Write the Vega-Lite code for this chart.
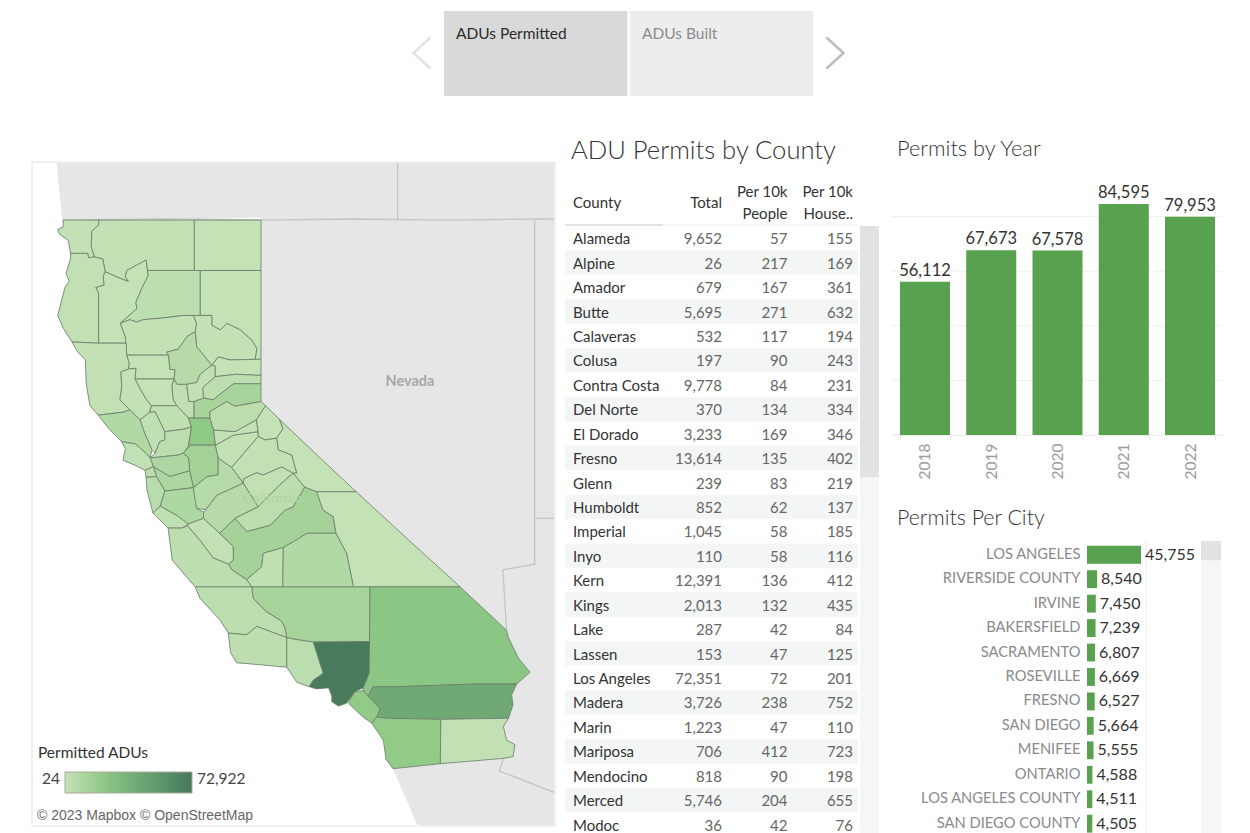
{
"$schema":"https://vega.github.io/schema/vega-lite/v6.json",
"width":1250,"height":833,"padding":0,"autosize":{"type":"none"},"background":"white",
"config":{"font":"Lato","view":{"stroke":null},"axis":{"grid":false}},
"datasets":{
"table":[
{"County":"Alameda","Total":9652,"People":57,"House":155},{"County":"Alpine","Total":26,"People":217,"House":169},{"County":"Amador","Total":679,"People":167,"House":361},{"County":"Butte","Total":5695,"People":271,"House":632},{"County":"Calaveras","Total":532,"People":117,"House":194},{"County":"Colusa","Total":197,"People":90,"House":243},{"County":"Contra Costa","Total":9778,"People":84,"House":231},{"County":"Del Norte","Total":370,"People":134,"House":334},{"County":"El Dorado","Total":3233,"People":169,"House":346},{"County":"Fresno","Total":13614,"People":135,"House":402},{"County":"Glenn","Total":239,"People":83,"House":219},{"County":"Humboldt","Total":852,"People":62,"House":137},{"County":"Imperial","Total":1045,"People":58,"House":185},{"County":"Inyo","Total":110,"People":58,"House":116},{"County":"Kern","Total":12391,"People":136,"House":412},{"County":"Kings","Total":2013,"People":132,"House":435},{"County":"Lake","Total":287,"People":42,"House":84},{"County":"Lassen","Total":153,"People":47,"House":125},{"County":"Los Angeles","Total":72351,"People":72,"House":201},{"County":"Madera","Total":3726,"People":238,"House":752},{"County":"Marin","Total":1223,"People":47,"House":110},{"County":"Mariposa","Total":706,"People":412,"House":723},{"County":"Mendocino","Total":818,"People":90,"House":198},{"County":"Merced","Total":5746,"People":204,"House":655},{"County":"Modoc","Total":36,"People":42,"House":76}],
"years":[{"Year":"2018","Permits":56112},{"Year":"2019","Permits":67673},{"Year":"2020","Permits":67578},{"Year":"2021","Permits":84595},{"Year":"2022","Permits":79953}],
"cities":[{"City":"LOS ANGELES","Permits":45755},{"City":"RIVERSIDE COUNTY","Permits":8540},{"City":"IRVINE","Permits":7450},{"City":"BAKERSFIELD","Permits":7239},{"City":"SACRAMENTO","Permits":6807},{"City":"ROSEVILLE","Permits":6669},{"City":"FRESNO","Permits":6527},{"City":"SAN DIEGO","Permits":5664},{"City":"MENIFEE","Permits":5555},{"City":"ONTARIO","Permits":4588},{"City":"LOS ANGELES COUNTY","Permits":4511},{"City":"SAN DIEGO COUNTY","Permits":4505}]
},
"resolve":{"scale":{"x":"independent","y":"independent","color":"independent","shape":"independent","stroke":"independent"},"axis":{"x":"independent","y":"independent"}},
"layer":[
{"data":{"values":[{"Tab":"ADUs Permitted"},{"Tab":"ADUs Built"}]},"mark":{"type":"rect"},"encoding":{
"x":{"field":"Tab","type":"nominal","sort":null,"axis":null,"scale":{"type":"band","range":[444,813],"paddingInner":0.012,"paddingOuter":0}},
"y":{"datum":"tab","type":"nominal","axis":null,"scale":{"type":"band","range":[11,96],"paddingInner":0,"paddingOuter":0}},
"color":{"field":"Tab","type":"nominal","legend":null,"scale":{"domain":["ADUs Permitted","ADUs Built"],"range":["#d9d9d9","#ededed"]}}}},
{"data":{"values":[{"Tab":"ADUs Permitted"},{"Tab":"ADUs Built"}]},"mark":{"type":"text","align":"left","baseline":"middle","fontSize":15.5},"encoding":{
"text":{"field":"Tab"},
"x":{"field":"Tab","type":"nominal","sort":null,"axis":null,"scale":{"type":"point","range":[456,642],"padding":0}},
"y":{"datum":"tab","type":"nominal","axis":null,"scale":{"type":"point","range":[33.5,33.5],"padding":0}},
"color":{"field":"Tab","type":"nominal","legend":null,"scale":{"domain":["ADUs Permitted","ADUs Built"],"range":["#2b2b2b","#8c8c8c"]}}}},
{"data":{"values":[{"Arrow":"previous"},{"Arrow":"next"}]},"mark":{"type":"point","filled":false,"size":961,"strokeWidth":2.5,"opacity":1},"encoding":{
"x":{"field":"Arrow","type":"nominal","sort":null,"axis":null,"scale":{"type":"point","range":[422,835],"padding":0}},
"y":{"datum":"arrow","type":"nominal","axis":null,"scale":{"type":"point","range":[53,53],"padding":0}},
"shape":{"field":"Arrow","type":"nominal","legend":null,"scale":{"domain":["previous","next"],"range":["M0.55,-1L-0.55,0L0.55,1","M-0.55,-1L0.55,0L-0.55,1"]}},
"stroke":{"field":"Arrow","type":"nominal","legend":null,"scale":{"domain":["previous","next"],"range":["#e2e2e2","#bdbdbd"]}}}},
{"data":{"values":[{"Panel":"map"}]},"mark":{"type":"rect","fill":"white","stroke":"#e2e2e2","strokeWidth":1},"encoding":{
"x":{"field":"Panel","type":"nominal","axis":null,"scale":{"type":"band","range":[32,555],"paddingInner":0,"paddingOuter":0}},
"y":{"field":"Panel","type":"nominal","axis":null,"scale":{"type":"band","range":[162,826],"paddingInner":0,"paddingOuter":0}}}},
{"projection":{"type":"mercator","scale":2635,"center":[-120,37],"translate":[261,518.3],"clipExtent":[[33,163],[554,825]]},
"layer":[
{"data":{"values":[
{"type":"Feature","properties":{"Name":"Oregon"},"geometry":{"type":"Polygon","coordinates":[[[-124.51,43.4],[-112,43.4],[-112,41.9],[-124.3,41.9],[-124.33,42.05],[-124.41,42.65],[-124.51,43.4]]]}},
{"type":"Feature","properties":{"Name":"Nevada and Arizona"},"geometry":{"type":"Polygon","coordinates":[[[-120,42.5],[-112,42.5],[-112,31.3],[-114.72,32.72],[-114.52,32.75],[-114.48,32.97],[-114.66,33.05],[-114.73,33.3],[-114.62,33.45],[-114.52,33.69],[-114.55,33.87],[-114.44,34.07],[-114.15,34.28],[-114.4,34.53],[-114.62,34.9],[-114.66,35.03],[-115.67,35.8],[-117.93,37.46],[-119.6,38.7],[-119.9,38.93],[-120,39],[-120,42.5]]]}},
{"type":"Feature","properties":{"Name":"Mexico"},"geometry":{"type":"Polygon","coordinates":[[[-117.13,32.53],[-114.72,32.72],[-112,31.3],[-112,29],[-115.5,29.5],[-116.2,31],[-116.62,31.53],[-117.13,32.53]]]}}
]},"mark":{"type":"geoshape","fill":"#e6e6e6","stroke":null}},
{"data":{"values":[
{"type":"Feature","properties":{"Name":"Oregon Idaho"},"geometry":{"type":"LineString","coordinates":[[-117.03,43.4],[-117.03,42]]}},
{"type":"Feature","properties":{"Name":"42nd parallel"},"geometry":{"type":"LineString","coordinates":[[-124.3,42],[-120,42],[-116,42],[-112,42]]}},
{"type":"Feature","properties":{"Name":"Nevada Utah"},"geometry":{"type":"LineString","coordinates":[[-114.05,42],[-114.05,36.2],[-114.74,36.1],[-114.66,35.03]]}},
{"type":"Feature","properties":{"Name":"Utah Arizona"},"geometry":{"type":"LineString","coordinates":[[-114.05,37],[-112,37]]}},
{"type":"Feature","properties":{"Name":"Arizona Mexico"},"geometry":{"type":"LineString","coordinates":[[-114.72,32.72],[-114.82,32.49],[-113.5,32.05],[-112,31.5]]}}
]},"mark":{"type":"geoshape","filled":false,"stroke":"#c4c4c4","strokeWidth":1.3}},
{"data":{"values":[
{"type":"Feature","properties":{"County":"Del Norte","Total":370},"geometry":{"type":"Polygon","coordinates":[[[-124.3,42],[-123.52,42],[-123.53,41.92],[-123.68,41.82],[-123.69,41.57],[-123.62,41.4],[-123.75,41.39],[-123.77,41.46],[-124.14,41.46],[-124.19,41.67],[-124.38,41.77],[-124.42,41.85],[-124.3,41.89],[-124.3,42]]]}},
{"type":"Feature","properties":{"County":"Siskiyou","Total":300},"geometry":{"type":"Polygon","coordinates":[[[-123.52,42],[-122.5,42],[-121.45,42],[-121.45,41.18],[-122.47,41.18],[-122.5,41.35],[-122.92,41.18],[-122.95,41.08],[-122.88,41],[-123.06,41.05],[-123.39,41.16],[-123.44,41.37],[-123.62,41.4],[-123.69,41.57],[-123.68,41.82],[-123.53,41.92],[-123.52,42]]]}},
{"type":"Feature","properties":{"County":"Modoc","Total":36},"geometry":{"type":"Polygon","coordinates":[[[-121.45,42],[-120,42],[-120,41.18],[-121.45,41.18],[-121.45,42]]]}},
{"type":"Feature","properties":{"County":"Humboldt","Total":852},"geometry":{"type":"Polygon","coordinates":[[[-124.14,41.46],[-123.77,41.46],[-123.75,41.39],[-123.62,41.4],[-123.44,41.37],[-123.39,41.16],[-123.43,41.08],[-123.41,40.94],[-123.59,40.9],[-123.53,40.81],[-123.53,39.98],[-124.11,40],[-124.3,40.23],[-124.42,40.44],[-124.26,40.91],[-124.17,41],[-124.24,41.13],[-124.14,41.38],[-124.14,41.46]]]}},
{"type":"Feature","properties":{"County":"Trinity","Total":200},"geometry":{"type":"Polygon","coordinates":[[[-123.39,41.16],[-123.06,41.05],[-122.88,41],[-122.95,41.08],[-122.92,41.18],[-122.5,41.35],[-122.47,41.18],[-122.45,41.1],[-122.59,40.89],[-122.72,40.66],[-122.7,40.55],[-123.06,40.31],[-122.95,40.09],[-122.93,39.98],[-123.53,39.98],[-123.53,40.81],[-123.59,40.9],[-123.41,40.94],[-123.43,41.08],[-123.39,41.16]]]}},
{"type":"Feature","properties":{"County":"Shasta","Total":3000},"geometry":{"type":"Polygon","coordinates":[[[-122.47,41.18],[-121.32,41.18],[-121.32,40.44],[-121.47,40.44],[-121.69,40.44],[-122.12,40.4],[-122.56,40.37],[-122.7,40.33],[-122.85,40.37],[-123.06,40.31],[-122.7,40.55],[-122.72,40.66],[-122.59,40.89],[-122.45,41.1],[-122.47,41.18]]]}},
{"type":"Feature","properties":{"County":"Lassen","Total":153},"geometry":{"type":"Polygon","coordinates":[[[-121.32,41.18],[-120,41.18],[-120,39.71],[-120.13,39.71],[-120.09,39.89],[-120.2,40.03],[-120.45,40.2],[-120.74,40.31],[-120.89,40.2],[-121.07,40.28],[-121.07,40.44],[-121.32,40.44],[-121.32,41.18]]]}},
{"type":"Feature","properties":{"County":"Tehama","Total":600},"geometry":{"type":"Polygon","coordinates":[[[-123.06,40.31],[-122.85,40.37],[-122.7,40.33],[-122.56,40.37],[-122.12,40.4],[-121.69,40.44],[-121.47,40.44],[-121.4,40.31],[-121.43,40.17],[-121.61,40.09],[-121.8,39.88],[-122.05,39.83],[-122.01,39.78],[-122.92,39.78],[-122.95,40.09],[-123.06,40.31]]]}},
{"type":"Feature","properties":{"County":"Plumas","Total":400},"geometry":{"type":"Polygon","coordinates":[[[-121.47,40.44],[-121.32,40.44],[-121.07,40.44],[-121.07,40.28],[-120.89,40.2],[-120.74,40.31],[-120.45,40.2],[-120.2,40.03],[-120.09,39.89],[-120.13,39.71],[-120.67,39.7],[-120.93,39.75],[-121.07,39.61],[-121.4,39.92],[-121.43,40.17],[-121.4,40.31],[-121.47,40.44]]]}},
{"type":"Feature","properties":{"County":"Glenn","Total":239},"geometry":{"type":"Polygon","coordinates":[[[-122.92,39.78],[-122.01,39.78],[-121.98,39.54],[-121.87,39.54],[-121.89,39.38],[-122.74,39.38],[-122.72,39.56],[-122.88,39.55],[-122.87,39.65],[-122.92,39.78]]]}},
{"type":"Feature","properties":{"County":"Butte","Total":5695},"geometry":{"type":"Polygon","coordinates":[[[-121.61,40.09],[-121.43,40.17],[-121.4,39.92],[-121.07,39.61],[-121.32,39.46],[-121.4,39.32],[-121.62,39.29],[-121.83,39.29],[-121.89,39.38],[-121.87,39.54],[-121.98,39.54],[-122.01,39.78],[-122.05,39.83],[-121.8,39.88],[-121.61,40.09]]]}},
{"type":"Feature","properties":{"County":"Sierra","Total":30},"geometry":{"type":"Polygon","coordinates":[[[-120.93,39.75],[-120.67,39.7],[-120.13,39.71],[-120,39.71],[-120,39.44],[-120.55,39.46],[-120.75,39.44],[-121,39.42],[-121,39.6],[-121.07,39.61],[-120.93,39.75]]]}},
{"type":"Feature","properties":{"County":"Nevada","Total":2500},"geometry":{"type":"Polygon","coordinates":[[[-121.27,39.23],[-121,39.42],[-120.75,39.44],[-120.55,39.46],[-120,39.44],[-120,39.3],[-120.6,39.3],[-121.04,39.03],[-121.25,39.06],[-121.27,39.23]]]}},
{"type":"Feature","properties":{"County":"Placer","Total":12000},"geometry":{"type":"Polygon","coordinates":[[[-121.46,39],[-121.25,39.06],[-121.04,39.03],[-120.6,39.3],[-120,39.3],[-120,39],[-120.565,38.92],[-120.75,39],[-121.11,38.83],[-121.11,38.72],[-121.46,38.72],[-121.46,39]]]}},
{"type":"Feature","properties":{"County":"Yuba","Total":1000},"geometry":{"type":"Polygon","coordinates":[[[-121.62,39.29],[-121.4,39.32],[-121.32,39.46],[-121.07,39.61],[-121,39.6],[-121,39.42],[-121.27,39.23],[-121.25,39.06],[-121.46,39],[-121.57,39],[-121.62,39.29]]]}},
{"type":"Feature","properties":{"County":"Sutter","Total":1500},"geometry":{"type":"Polygon","coordinates":[[[-121.89,39.38],[-121.83,39.29],[-121.62,39.29],[-121.57,39],[-121.46,39],[-121.46,38.72],[-121.58,38.72],[-121.65,38.78],[-121.83,38.93],[-121.91,39.03],[-121.94,39.27],[-121.89,39.38]]]}},
{"type":"Feature","properties":{"County":"Colusa","Total":197},"geometry":{"type":"Polygon","coordinates":[[[-122.74,39.38],[-121.89,39.38],[-121.94,39.27],[-121.91,39.03],[-121.83,38.93],[-122.38,38.93],[-122.49,39.03],[-122.62,39.2],[-122.74,39.38]]]}},
{"type":"Feature","properties":{"County":"Lake","Total":287},"geometry":{"type":"Polygon","coordinates":[[[-122.88,39.55],[-122.72,39.56],[-122.74,39.38],[-122.62,39.2],[-122.49,39.03],[-122.38,38.93],[-122.42,38.82],[-122.63,38.69],[-122.85,38.86],[-123.07,39.03],[-123.03,39.25],[-123.05,39.5],[-122.88,39.55]]]}},
{"type":"Feature","properties":{"County":"Mendocino","Total":818},"geometry":{"type":"Polygon","coordinates":[[[-124.11,40],[-123.53,39.98],[-122.93,39.98],[-122.92,39.78],[-122.87,39.65],[-122.88,39.55],[-123.05,39.5],[-123.03,39.25],[-123.07,39.03],[-122.85,38.86],[-123,38.82],[-123.54,38.77],[-123.72,38.93],[-123.8,39.3],[-123.82,39.7],[-124,39.85],[-124.11,40]]]}},
{"type":"Feature","properties":{"County":"Sonoma","Total":8000},"geometry":{"type":"Polygon","coordinates":[[[-123.54,38.77],[-123,38.82],[-122.85,38.86],[-122.63,38.69],[-122.52,38.45],[-122.37,38.18],[-122.41,38.04],[-122.5,38.12],[-122.73,38.28],[-123.03,38.32],[-123.32,38.55],[-123.54,38.77]]]}},
{"type":"Feature","properties":{"County":"Napa","Total":1800},"geometry":{"type":"Polygon","coordinates":[[[-122.63,38.69],[-122.42,38.82],[-122.3,38.83],[-122.09,38.49],[-122.09,38.35],[-122.2,38.32],[-122.3,38.12],[-122.37,38.18],[-122.52,38.45],[-122.63,38.69]]]}},
{"type":"Feature","properties":{"County":"Yolo","Total":2000},"geometry":{"type":"Polygon","coordinates":[[[-122.38,38.93],[-121.83,38.93],[-121.65,38.78],[-121.58,38.72],[-121.51,38.57],[-121.69,38.53],[-122.09,38.49],[-122.3,38.83],[-122.42,38.82],[-122.38,38.93]]]}},
{"type":"Feature","properties":{"County":"Solano","Total":3500},"geometry":{"type":"Polygon","coordinates":[[[-122.09,38.49],[-121.69,38.53],[-121.51,38.57],[-121.58,38.23],[-121.69,38.12],[-121.8,38.09],[-122.41,38.04],[-122.3,38.12],[-122.2,38.32],[-122.09,38.35],[-122.09,38.49]]]}},
{"type":"Feature","properties":{"County":"Sacramento","Total":22000},"geometry":{"type":"Polygon","coordinates":[[[-121.58,38.72],[-121.46,38.72],[-121.11,38.72],[-121.03,38.52],[-120.99,38.26],[-121.54,38.26],[-121.69,38.12],[-121.58,38.23],[-121.51,38.57],[-121.58,38.72]]]}},
{"type":"Feature","properties":{"County":"San Joaquin","Total":14000},"geometry":{"type":"Polygon","coordinates":[[[-121.54,38.26],[-120.99,38.26],[-120.93,38.04],[-120.93,37.75],[-121.17,37.72],[-121.47,37.53],[-121.55,37.82],[-121.58,38.05],[-121.69,38.12],[-121.54,38.26]]]}},
{"type":"Feature","properties":{"County":"Contra Costa","Total":9778},"geometry":{"type":"Polygon","coordinates":[[[-122.41,38.04],[-121.8,38.09],[-121.69,38.12],[-121.58,38.05],[-121.55,37.82],[-121.98,37.72],[-122.34,37.89],[-122.41,38.04]]]}},
{"type":"Feature","properties":{"County":"Alameda","Total":9652},"geometry":{"type":"Polygon","coordinates":[[[-122.34,37.89],[-121.98,37.72],[-121.55,37.82],[-121.47,37.53],[-122.09,37.47],[-122.27,37.72],[-122.34,37.89]]]}},
{"type":"Feature","properties":{"County":"Marin","Total":1223},"geometry":{"type":"Polygon","coordinates":[[[-123.03,38.32],[-122.73,38.28],[-122.5,38.12],[-122.41,38.04],[-122.34,37.89],[-122.52,37.83],[-122.75,37.92],[-123,38],[-122.95,38.2],[-123.03,38.32]]]}},
{"type":"Feature","properties":{"County":"San Francisco","Total":2500},"geometry":{"type":"Polygon","coordinates":[[[-122.52,37.83],[-122.34,37.89],[-122.27,37.72],[-122.5,37.71],[-122.52,37.83]]]}},
{"type":"Feature","properties":{"County":"San Mateo","Total":5000},"geometry":{"type":"Polygon","coordinates":[[[-122.5,37.71],[-122.27,37.72],[-122.09,37.47],[-122.12,37.4],[-122.19,37.21],[-122.35,37.09],[-122.48,37.49],[-122.5,37.71]]]}},
{"type":"Feature","properties":{"County":"Santa Clara","Total":9000},"geometry":{"type":"Polygon","coordinates":[[[-122.09,37.47],[-121.47,37.53],[-121.42,37.3],[-121.4,37.17],[-121.25,37.11],[-121.25,37],[-121.58,36.9],[-121.83,37.05],[-122.19,37.21],[-122.12,37.4],[-122.09,37.47]]]}},
{"type":"Feature","properties":{"County":"Santa Cruz","Total":2000},"geometry":{"type":"Polygon","coordinates":[[[-122.35,37.09],[-122.19,37.21],[-121.83,37.05],[-121.58,36.9],[-121.72,36.83],[-122.02,36.83],[-122.35,37.09]]]}},
{"type":"Feature","properties":{"County":"San Benito","Total":500},"geometry":{"type":"Polygon","coordinates":[[[-121.58,36.9],[-121.25,37],[-120.9,36.74],[-120.6,36.51],[-120.6,36.27],[-120.71,36.2],[-121.04,36.31],[-121.33,36.62],[-121.6,36.87],[-121.58,36.9]]]}},
{"type":"Feature","properties":{"County":"Monterey","Total":2500},"geometry":{"type":"Polygon","coordinates":[[[-121.72,36.83],[-121.6,36.87],[-121.33,36.62],[-121.04,36.31],[-120.71,36.2],[-120.63,36.1],[-120.31,35.93],[-120.2,35.8],[-121.43,35.8],[-121.93,36.27],[-122.02,36.83],[-121.72,36.83]]]}},
{"type":"Feature","properties":{"County":"Fresno","Total":13614},"geometry":{"type":"Polygon","coordinates":[[[-120.9,36.74],[-120.565,37],[-120.31,36.77],[-119.8,36.88],[-119.48,37.14],[-119.3,37.2],[-119.05,37.54],[-118.79,37.46],[-118.65,37.14],[-118.43,37.03],[-118.37,36.74],[-119,36.74],[-119.3,36.59],[-119.52,36.49],[-119.95,36.39],[-119.99,36.15],[-120.31,35.93],[-120.63,36.1],[-120.71,36.2],[-120.6,36.27],[-120.6,36.51],[-120.9,36.74]]]}},
{"type":"Feature","properties":{"County":"Merced","Total":5746},"geometry":{"type":"Polygon","coordinates":[[[-120.96,37.4],[-120.385,37.61],[-120.06,37.2],[-120.565,37],[-120.9,36.74],[-121.25,37],[-121.25,37.11],[-121.2,37.15],[-120.96,37.4]]]}},
{"type":"Feature","properties":{"County":"Stanislaus","Total":6000},"geometry":{"type":"Polygon","coordinates":[[[-120.93,38.04],[-120.64,37.88],[-120.385,37.61],[-120.96,37.4],[-121.2,37.15],[-121.4,37.17],[-121.45,37.4],[-121.47,37.53],[-121.17,37.72],[-120.93,37.75],[-120.93,38.04]]]}},
{"type":"Feature","properties":{"County":"Mariposa","Total":706},"geometry":{"type":"Polygon","coordinates":[[[-120.385,37.68],[-120.1,37.79],[-119.95,37.75],[-119.55,37.89],[-119.3,37.78],[-119.59,37.58],[-120.06,37.2],[-120.385,37.61],[-120.385,37.68]]]}},
{"type":"Feature","properties":{"County":"Madera","Total":3726},"geometry":{"type":"Polygon","coordinates":[[[-120.06,37.2],[-119.59,37.58],[-119.3,37.78],[-119.05,37.54],[-119.3,37.2],[-119.48,37.14],[-119.8,36.88],[-120.31,36.77],[-120.565,37],[-120.06,37.2]]]}},
{"type":"Feature","properties":{"County":"Tuolumne","Total":700},"geometry":{"type":"Polygon","coordinates":[[[-120.64,37.88],[-120.06,38.41],[-119.91,38.35],[-119.66,38.38],[-119.62,38.18],[-119.33,38.09],[-119.22,37.78],[-119.3,37.78],[-119.55,37.89],[-119.95,37.75],[-120.1,37.79],[-120.385,37.68],[-120.385,37.61],[-120.64,37.88]]]}},
{"type":"Feature","properties":{"County":"Calaveras","Total":532},"geometry":{"type":"Polygon","coordinates":[[[-120.99,38.26],[-120.6,38.43],[-120.06,38.49],[-120.06,38.41],[-120.64,37.88],[-120.93,38.04],[-120.99,38.26]]]}},
{"type":"Feature","properties":{"County":"Amador","Total":679},"geometry":{"type":"Polygon","coordinates":[[[-121.03,38.52],[-120.565,38.49],[-120.1,38.69],[-120.06,38.49],[-120.6,38.43],[-120.99,38.26],[-121.03,38.52]]]}},
{"type":"Feature","properties":{"County":"El Dorado","Total":3233},"geometry":{"type":"Polygon","coordinates":[[[-121.11,38.83],[-120.75,39],[-120.565,38.92],[-120,39],[-119.9,38.93],[-120.1,38.69],[-120.565,38.49],[-121.03,38.52],[-121.11,38.72],[-121.11,38.83]]]}},
{"type":"Feature","properties":{"County":"Alpine","Total":26},"geometry":{"type":"Polygon","coordinates":[[[-120.1,38.69],[-119.9,38.93],[-119.6,38.7],[-119.52,38.54],[-119.66,38.38],[-119.91,38.35],[-120.06,38.41],[-120.06,38.49],[-120.1,38.69]]]}},
{"type":"Feature","properties":{"County":"Mono","Total":150},"geometry":{"type":"Polygon","coordinates":[[[-119.6,38.7],[-118.7,38.03],[-117.93,37.46],[-118.79,37.46],[-119.05,37.54],[-119.3,37.78],[-119.22,37.78],[-119.33,38.09],[-119.62,38.18],[-119.66,38.38],[-119.52,38.54],[-119.6,38.7]]]}},
{"type":"Feature","properties":{"County":"Inyo","Total":110},"geometry":{"type":"Polygon","coordinates":[[[-118.79,37.46],[-117.93,37.46],[-116.8,36.63],[-115.67,35.8],[-117.63,35.8],[-117.99,35.8],[-118.14,36.39],[-118.37,36.74],[-118.43,37.03],[-118.65,37.14],[-118.79,37.46]]]}},
{"type":"Feature","properties":{"County":"Tulare","Total":8000},"geometry":{"type":"Polygon","coordinates":[[[-119.52,36.49],[-119.3,36.59],[-119,36.74],[-118.37,36.74],[-118.14,36.39],[-117.99,35.8],[-119.53,35.8],[-119.52,36.49]]]}},
{"type":"Feature","properties":{"County":"Kings","Total":2013},"geometry":{"type":"Polygon","coordinates":[[[-119.95,36.39],[-119.52,36.49],[-119.53,35.8],[-120.2,35.8],[-120.31,35.93],[-119.99,36.15],[-119.95,36.39]]]}},
{"type":"Feature","properties":{"County":"Kern","Total":12391},"geometry":{"type":"Polygon","coordinates":[[[-120.2,35.8],[-119.53,35.8],[-117.99,35.8],[-117.63,35.8],[-117.64,34.83],[-118.86,34.82],[-119.26,34.87],[-119.44,34.9],[-119.48,35.07],[-119.55,35.19],[-119.88,35.36],[-120.06,35.5],[-120.17,35.6],[-120.2,35.8]]]}},
{"type":"Feature","properties":{"County":"San Luis Obispo","Total":3500},"geometry":{"type":"Polygon","coordinates":[[[-121.43,35.8],[-120.2,35.8],[-120.17,35.6],[-120.06,35.5],[-119.88,35.36],[-119.55,35.19],[-119.48,35.07],[-119.44,34.9],[-119.77,35],[-120.09,35.1],[-120.31,34.95],[-120.71,34.98],[-120.89,35.21],[-121.33,35.6],[-121.43,35.8]]]}},
{"type":"Feature","properties":{"County":"Santa Barbara","Total":2500},"geometry":{"type":"Polygon","coordinates":[[[-120.71,34.98],[-120.31,34.95],[-120.09,35.1],[-119.77,35],[-119.44,34.9],[-119.44,34.37],[-120.09,34.42],[-120.53,34.45],[-120.66,34.63],[-120.71,34.98]]]}},
{"type":"Feature","properties":{"County":"Ventura","Total":3500},"geometry":{"type":"Polygon","coordinates":[[[-119.44,34.9],[-119.26,34.87],[-118.86,34.82],[-118.645,34.26],[-118.86,34.14],[-118.95,34.02],[-119.22,34.1],[-119.44,34.37],[-119.44,34.9]]]}},
{"type":"Feature","properties":{"County":"San Bernardino","Total":24000},"geometry":{"type":"Polygon","coordinates":[[[-117.63,35.8],[-115.67,35.8],[-114.66,35.03],[-114.62,34.9],[-114.4,34.53],[-114.15,34.28],[-114.44,34.07],[-115.31,34.07],[-116.98,34.02],[-117.56,34.02],[-117.67,33.85],[-117.78,33.95],[-117.78,34],[-117.65,34.26],[-117.64,34.83],[-117.63,35.8]]]}},
{"type":"Feature","properties":{"County":"Riverside","Total":42000},"geometry":{"type":"Polygon","coordinates":[[[-117.56,34.02],[-116.98,34.02],[-115.31,34.07],[-114.44,34.07],[-114.55,33.87],[-114.52,33.69],[-114.62,33.45],[-116.09,33.43],[-117.23,33.45],[-117.49,33.47],[-117.41,33.62],[-117.67,33.85],[-117.56,34.02]]]}},
{"type":"Feature","properties":{"County":"Orange","Total":21000},"geometry":{"type":"Polygon","coordinates":[[[-117.96,33.93],[-117.78,33.95],[-117.67,33.85],[-117.41,33.62],[-117.49,33.47],[-117.59,33.36],[-117.78,33.47],[-118.1,33.72],[-117.96,33.93]]]}},
{"type":"Feature","properties":{"County":"San Diego","Total":21000},"geometry":{"type":"Polygon","coordinates":[[[-117.49,33.47],[-117.23,33.45],[-116.09,33.43],[-116.1,32.62],[-117.13,32.53],[-117.28,32.7],[-117.34,33.05],[-117.59,33.36],[-117.49,33.47]]]}},
{"type":"Feature","properties":{"County":"Imperial","Total":1045},"geometry":{"type":"Polygon","coordinates":[[[-116.09,33.43],[-114.62,33.45],[-114.73,33.3],[-114.66,33.05],[-114.48,32.97],[-114.52,32.75],[-114.72,32.72],[-116.1,32.62],[-116.09,33.43]]]}},
{"type":"Feature","properties":{"County":"Los Angeles","Total":72351},"geometry":{"type":"Polygon","coordinates":[[[-118.86,34.82],[-117.64,34.83],[-117.65,34.26],[-117.78,34],[-117.96,33.93],[-118.14,33.72],[-118.32,33.67],[-118.46,33.75],[-118.46,33.85],[-118.53,34],[-118.79,33.98],[-118.95,34.02],[-118.86,34.14],[-118.645,34.26],[-118.86,34.82]]]}}
]},"mark":{"type":"geoshape","stroke":"#6f7f6f","strokeWidth":1,"strokeOpacity":0.85},"encoding":{"color":{"field":"properties.Total","type":"quantitative",
"scale":{"type":"linear","domain":[24,22000,72922],"range":["#c3e2b6","#8fc986","#47795b"]},
"legend":{"orient":"none","legendX":65,"legendY":772,"direction":"horizontal","title":null,"gradientLength":127,"gradientThickness":21,"gradientStrokeColor":"#aaa99a","gradientStrokeWidth":1,"values":[24,72922],"labelExpr":"format(datum.value, ',')","labelFontSize":15.5,"labelColor":"#444444","encoding":{"labels":{"align":{"value":{"signal":"datum.value<100?'right':'left'"}},"dx":{"value":{"signal":"datum.value<100?-5:5"}},"dy":{"value":-23}}}}}}},
{"data":{"values":[{"Name":"Permitted ADUs","lon":-124.85,"lat":32.82}]},"mark":{"type":"text","align":"left","baseline":"middle","fontSize":15.5,"color":"#333333"},"encoding":{"longitude":{"field":"lon","type":"quantitative"},"latitude":{"field":"lat","type":"quantitative"},"text":{"field":"Name"}}},
{"data":{"values":[{"Name":"Nevada","lon":-116.76,"lat":39.33}]},"mark":{"type":"text","fontSize":14.5,"fontWeight":"bold","color":"#a6a6a6"},"encoding":{"longitude":{"field":"lon","type":"quantitative"},"latitude":{"field":"lat","type":"quantitative"},"text":{"field":"Name"}}},
{"data":{"values":[{"Name":"California","lon":-119.75,"lat":37.33}]},"mark":{"type":"text","fontSize":14,"color":"#add4a2"},"encoding":{"longitude":{"field":"lon","type":"quantitative"},"latitude":{"field":"lat","type":"quantitative"},"text":{"field":"Name"}}},
{"data":{"values":[{"Note":"© 2023 Mapbox  © OpenStreetMap","lon":-124.87,"lat":31.66}]},"mark":{"type":"text","align":"left","baseline":"middle","fontSize":14,"font":"Liberation Sans","color":"#666666"},"encoding":{"longitude":{"field":"lon","type":"quantitative"},"latitude":{"field":"lat","type":"quantitative"},"text":{"field":"Note"}}}
]},
{"data":{"values":[{"Heading":"ADU Permits by County"}]},"mark":{"type":"text","align":"left","baseline":"middle","fontSize":25.6,"fontWeight":300,"color":"#333333"},"encoding":{"text":{"field":"Heading"},
"x":{"field":"Heading","type":"nominal","axis":null,"scale":{"type":"point","range":[571,571],"padding":0}},
"y":{"field":"Heading","type":"nominal","axis":null,"scale":{"type":"point","range":[151,151],"padding":0}}}},
{"data":{"values":[{"Heading":"Permits by Year"}]},"mark":{"type":"text","align":"left","baseline":"middle","fontSize":21.8,"fontWeight":300,"color":"#333333"},"encoding":{"text":{"field":"Heading"},
"x":{"field":"Heading","type":"nominal","axis":null,"scale":{"type":"point","range":[897,897],"padding":0}},
"y":{"field":"Heading","type":"nominal","axis":null,"scale":{"type":"point","range":[148.5,148.5],"padding":0}}}},
{"data":{"values":[{"Heading":"Permits Per City"}]},"mark":{"type":"text","align":"left","baseline":"middle","fontSize":21.4,"fontWeight":300,"color":"#333333"},"encoding":{"text":{"field":"Heading"},
"x":{"field":"Heading","type":"nominal","axis":null,"scale":{"type":"point","range":[897,897],"padding":0}},
"y":{"field":"Heading","type":"nominal","axis":null,"scale":{"type":"point","range":[518.5,518.5],"padding":0}}}},
{"data":{"values":[{"Column":"County","Line":"middle","Label":"County"}]},"mark":{"type":"text","align":"left","baseline":"middle","fontSize":15,"color":"#333333"},"encoding":{"text":{"field":"Label"},
"x":{"field":"Column","type":"nominal","axis":null,"scale":{"type":"point","range":[573,573],"padding":0}},
"y":{"field":"Line","type":"nominal","axis":null,"scale":{"type":"point","domain":["top","middle","bottom"],"range":[192,214],"padding":0}}}},
{"data":{"values":[{"Column":"Total","Line":"middle","Label":"Total"},{"Column":"People","Line":"top","Label":"Per 10k"},{"Column":"People","Line":"bottom","Label":"People"},{"Column":"House","Line":"top","Label":"Per 10k"},{"Column":"House","Line":"bottom","Label":"House.."}]},"mark":{"type":"text","align":"right","baseline":"middle","fontSize":15,"color":"#333333"},"encoding":{"text":{"field":"Label"},
"x":{"field":"Column","type":"nominal","axis":null,"scale":{"type":"point","domain":["Total","People","House"],"range":[722,853],"padding":0}},
"y":{"field":"Line","type":"nominal","axis":null,"scale":{"type":"point","domain":["top","middle","bottom"],"range":[192,214],"padding":0}}}},
{"data":{"values":[{"Line":"header"}]},"mark":{"type":"rule","color":"#eeeeee","strokeWidth":1},"encoding":{
"x":{"datum":0,"type":"quantitative","axis":null,"scale":{"domain":[0,1],"range":[565,858]}},"x2":{"datum":1},
"y":{"field":"Line","type":"nominal","axis":null,"scale":{"type":"point","range":[225,225],"padding":0}}}},
{"data":{"values":[{"Line":"header"}]},"mark":{"type":"rule","color":"#cfcfcf","strokeWidth":1},"encoding":{
"x":{"datum":0,"type":"quantitative","axis":null,"scale":{"domain":[0,1],"range":[565,663]}},"x2":{"datum":1},
"y":{"field":"Line","type":"nominal","axis":null,"scale":{"type":"point","range":[225,225],"padding":0}}}},
{"data":{"name":"table"},"transform":[{"filter":{"field":"County","oneOf":["Alpine","Butte","Colusa","Del Norte","Fresno","Humboldt","Inyo","Kings","Lassen","Madera","Mariposa","Merced"]}}],"mark":{"type":"rect","color":"#f4f6f6"},"encoding":{
"x":{"datum":"row","type":"nominal","axis":null,"scale":{"type":"band","range":[565,858],"paddingInner":0,"paddingOuter":0}},
"y":{"field":"County","type":"nominal","axis":null,"scale":{"type":"band","domain":["Alameda","Alpine","Amador","Butte","Calaveras","Colusa","Contra Costa","Del Norte","El Dorado","Fresno","Glenn","Humboldt","Imperial","Inyo","Kern","Kings","Lake","Lassen","Los Angeles","Madera","Marin","Mariposa","Mendocino","Merced","Modoc"],"range":[226,836.75],"paddingInner":0,"paddingOuter":0}}}},
{"data":{"name":"table"},"mark":{"type":"text","align":"left","baseline":"middle","fontSize":15,"color":"#333333"},"encoding":{"text":{"field":"County"},
"x":{"datum":"County","type":"nominal","axis":null,"scale":{"type":"point","range":[573,573],"padding":0}},
"y":{"field":"County","type":"nominal","sort":null,"axis":null,"scale":{"type":"band","range":[227,837.75],"paddingInner":0,"paddingOuter":0}}}},
{"data":{"name":"table"},"mark":{"type":"text","align":"right","baseline":"middle","fontSize":15,"color":"#666666"},"encoding":{"text":{"field":"Total","format":","},
"x":{"datum":"Total","type":"nominal","axis":null,"scale":{"type":"point","domain":["Total","People","House"],"range":[722,853],"padding":0}},
"y":{"field":"County","type":"nominal","sort":null,"axis":null,"scale":{"type":"band","range":[227,837.75],"paddingInner":0,"paddingOuter":0}}}},
{"data":{"name":"table"},"mark":{"type":"text","align":"right","baseline":"middle","fontSize":15,"color":"#666666"},"encoding":{"text":{"field":"People","format":","},
"x":{"datum":"People","type":"nominal","axis":null,"scale":{"type":"point","domain":["Total","People","House"],"range":[722,853],"padding":0}},
"y":{"field":"County","type":"nominal","sort":null,"axis":null,"scale":{"type":"band","range":[227,837.75],"paddingInner":0,"paddingOuter":0}}}},
{"data":{"name":"table"},"mark":{"type":"text","align":"right","baseline":"middle","fontSize":15,"color":"#666666"},"encoding":{"text":{"field":"House","format":","},
"x":{"datum":"House","type":"nominal","axis":null,"scale":{"type":"point","domain":["Total","People","House"],"range":[722,853],"padding":0}},
"y":{"field":"County","type":"nominal","sort":null,"axis":null,"scale":{"type":"band","range":[227,837.75],"paddingInner":0,"paddingOuter":0}}}},
{"data":{"values":[{"Part":"track","Start":0,"End":58},{"Part":"thumb","Start":0,"End":24}]},"mark":{"type":"rect"},"encoding":{
"x":{"datum":"scroll","type":"nominal","axis":null,"scale":{"type":"band","range":[860,879],"paddingInner":0,"paddingOuter":0}},
"y":{"field":"Start","type":"quantitative","axis":null,"scale":{"domain":[0,58],"range":[226,833]}},"y2":{"field":"End"},
"color":{"field":"Part","type":"nominal","legend":null,"scale":{"domain":["track","thumb"],"range":["#f5f6f6","#e2e2e2"]}},"order":{"field":"End","sort":"descending"}}},
{"data":{"values":[{"Permits":0},{"Permits":20000},{"Permits":40000},{"Permits":60000},{"Permits":80000}]},"mark":{"type":"rule","color":"#f0f0f0","strokeWidth":1},"encoding":{
"x":{"datum":0,"type":"quantitative","axis":null,"scale":{"domain":[0,1],"range":[891,1222]}},"x2":{"datum":1},
"y":{"field":"Permits","type":"quantitative","axis":null,"scale":{"domain":[0,100000],"range":[435,162]}}}},
{"data":{"name":"years"},"encoding":{
"x":{"field":"Year","type":"nominal","title":null,"axis":{"orient":"bottom","offset":-398,"labelAngle":-90,"labelColor":"#9c9c9c","labelFontSize":15.5,"labelPadding":3,"labelOffset":0,"domainColor":"#eeeeee","tickColor":"#eeeeee","tickBand":"extent","tickSize":5},"scale":{"type":"band","range":[892,1223],"paddingInner":0.245,"paddingOuter":0.12}},
"y":{"field":"Permits","type":"quantitative","axis":null,"scale":{"domain":[0,100000],"range":[435,162]}}},
"layer":[{"mark":{"type":"bar","color":"#58a14f"}},
{"mark":{"type":"text","baseline":"middle","dy":-11,"fontSize":16.5,"color":"#333333"},"encoding":{"text":{"field":"Permits","format":","}}}]},
{"data":{"values":[{"Reference":50000}]},"mark":{"type":"rule","color":"#eeeeee","strokeWidth":1},"encoding":{
"x":{"field":"Reference","type":"quantitative","axis":null,"scale":{"domain":[0,45755],"range":[1087,1141]}},
"y":{"datum":0,"type":"quantitative","axis":null,"scale":{"domain":[0,1],"range":[540,833]}},"y2":{"datum":1}}},
{"data":{"name":"cities"},"encoding":{
"y":{"field":"City","type":"nominal","sort":null,"title":null,"axis":{"orient":"left","offset":-1082,"ticks":false,"domain":false,"labelColor":"#8a8a8a","labelFontSize":14.7,"labelPadding":2,"labelLimit":300},"scale":{"type":"band","range":[542.5,835.9],"paddingInner":0.27,"paddingOuter":0.135}},
"x":{"field":"Permits","type":"quantitative","axis":null,"scale":{"domain":[0,45755],"range":[1087,1141]}}},
"layer":[{"mark":{"type":"bar","color":"#58a14f"}},
{"mark":{"type":"text","align":"left","baseline":"middle","dx":4,"fontSize":16,"color":"#333333"},"encoding":{"text":{"field":"Permits","format":","}}}]},
{"data":{"values":[{"Part":"track","Start":0,"End":182},{"Part":"thumb","Start":0,"End":12}]},"mark":{"type":"rect"},"encoding":{
"x":{"datum":"scroll","type":"nominal","axis":null,"scale":{"type":"band","range":[1201,1221],"paddingInner":0,"paddingOuter":0}},
"y":{"field":"Start","type":"quantitative","axis":null,"scale":{"domain":[0,182],"range":[541,833]}},"y2":{"field":"End"},
"color":{"field":"Part","type":"nominal","legend":null,"scale":{"domain":["track","thumb"],"range":["#f5f6f6","#e2e2e2"]}},"order":{"field":"End","sort":"descending"}}}
]}
